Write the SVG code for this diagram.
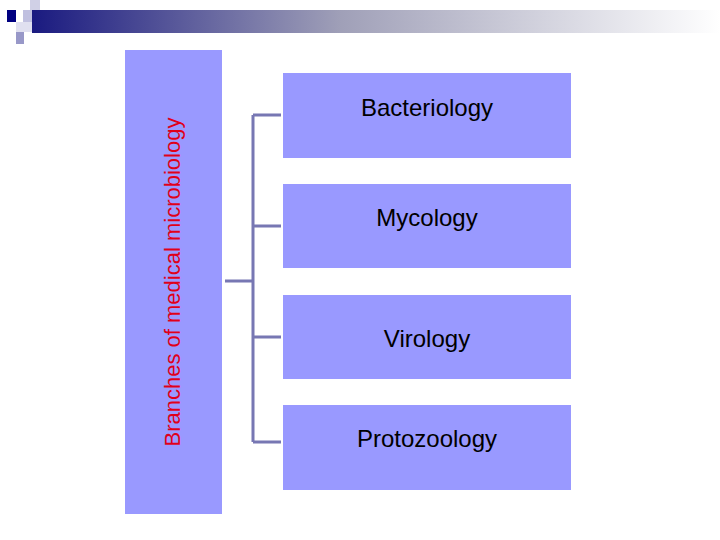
<svg xmlns="http://www.w3.org/2000/svg" width="720" height="540" viewBox="0 0 720 540">
<defs>
<linearGradient id="g" x1="0" x2="1" y1="0" y2="0"><stop offset="0" stop-color="#1a1a80"/><stop offset="0.45" stop-color="#a0a0b8"/><stop offset="1" stop-color="#ffffff"/></linearGradient>
<style>
.box{fill:#9999ff}
.lbl{font-family:"Liberation Sans",Arial,sans-serif;font-size:24px;fill:#000;text-anchor:middle}
.con{stroke:#7777b3;stroke-width:3;fill:none}
</style>
</defs>
<rect width="720" height="540" fill="#fff"/>
<rect x="32" y="10" width="688" height="23" fill="url(#g)"/>
<rect x="30" y="0" width="10" height="10" fill="#d0d0e6"/>
<rect x="7" y="10" width="9" height="12" fill="#000080"/>
<rect x="23" y="10" width="9" height="12" fill="#c0c0e0"/>
<rect x="16" y="22" width="16" height="10" fill="#e0e0f0"/>
<rect x="16" y="32" width="8" height="12" fill="#9898c8"/>
<g id="root"><rect class="box" x="125" y="50" width="97" height="464"/>
<text x="180" y="282" transform="rotate(-90 180 282)" font-family="Liberation Sans,Arial,sans-serif" font-size="22" fill="#e0001a" text-anchor="middle">Branches of medical microbiology</text></g>
<g id="connectors">
<path class="con" d="M225 281H253M253 115V442M253 115H281M253 226H281M253 337H281M253 442H281"/>
</g>
<g id="bacteriology"><rect class="box" x="283" y="73" width="288" height="85"/><text class="lbl" x="427" y="116">Bacteriology</text></g>
<g id="mycology"><rect class="box" x="283" y="184" width="288" height="84"/><text class="lbl" x="427" y="226">Mycology</text></g>
<g id="virology"><rect class="box" x="283" y="295" width="288" height="84"/><text class="lbl" x="427" y="347">Virology</text></g>
<g id="protozoology"><rect class="box" x="283" y="405" width="288" height="85"/><text class="lbl" x="427" y="447">Protozoology</text></g>
</svg>
